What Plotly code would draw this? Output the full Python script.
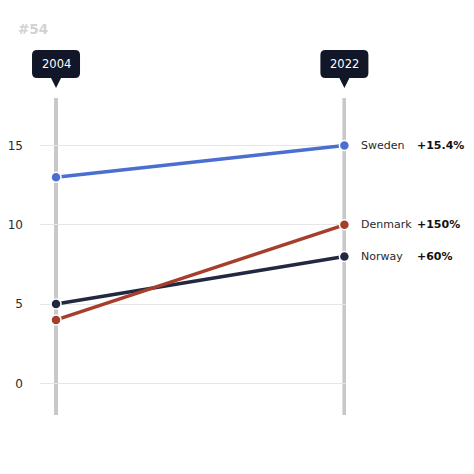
import plotly.graph_objects as go

# ── Data ───────────────────────────────────────────────────────────────────────
YEARS = [2004, 2022]
COUNTRIES = ["Sweden", "Norway", "Denmark"]
VALUES = {
    "Sweden": [13, 15],
    "Norway": [5, 8],
    "Denmark": [4, 10],
}
COLORS = {
    "Sweden": "#4a6fcf",
    "Norway": "#22283f",
    "Denmark": "#a53f2b",
}
Y_TICKS = [0, 5, 10, 15]

FONT = "DejaVu Sans"
NAVY = "#111729"
X_RANGE = [2003, 2022.1]

fig = go.Figure()

# two vertical year bars
for yr in YEARS:
    fig.add_shape(type="line", x0=yr, x1=yr, xref="x", y0=0, y1=1, yref="paper",
                  line=dict(color="#c8c8c8", width=4), layer="below")

for name in COUNTRIES:
    v0, v1 = VALUES[name]
    fig.add_trace(go.Scatter(
        x=YEARS, y=VALUES[name], mode="lines+markers", name=name,
        line=dict(color=COLORS[name], width=3.5),
        marker=dict(color=COLORS[name], size=10, line=dict(color="white", width=1.5)),
        cliponaxis=False, showlegend=False, hoverinfo="skip",
    ))
    pct = (v1 - v0) / v0 * 100
    pct_txt = f"+{pct:.1f}%" if pct % 1 else f"+{pct:.0f}%"
    fig.add_annotation(x=YEARS[-1], y=v1, text=name, showarrow=False,
                       xanchor="left", xshift=15,
                       font=dict(family=FONT, size=11, color="#2a2a2a"))
    fig.add_annotation(x=YEARS[-1], y=v1, text=f"<b>{pct_txt}</b>", showarrow=False,
                       xanchor="left", xshift=71,
                       font=dict(family=FONT, size=11, color="#111"))

# year callouts (rounded box with pointer, pixel-sized, paper-anchored so not clipped)
callout = ("M -5,20 L -19,20 Q -24,20 -24,25 L -24,43 Q -24,48 -19,48 "
           "L 19,48 Q 24,48 24,43 L 24,25 Q 24,20 19,20 L 5,20 L 0,10 Z")
for yr in YEARS:
    px = (yr - X_RANGE[0]) / (X_RANGE[1] - X_RANGE[0])
    fig.add_shape(type="path", path=callout, xref="paper", yref="paper",
                  xsizemode="pixel", ysizemode="pixel", xanchor=px, yanchor=1,
                  fillcolor=NAVY, line=dict(width=0))
    fig.add_annotation(x=yr, y=1, xref="x", yref="paper", text=str(yr),
                       showarrow=False, yanchor="middle", yshift=34,
                       font=dict(family=FONT, size=11.5, color="white"))

fig.add_annotation(x=0, y=1, xref="paper", yref="paper", text="<b>#54</b>",
                   showarrow=False, xanchor="left", yanchor="middle",
                   xshift=-24, yshift=69,
                   font=dict(family=FONT, size=13.5, color="#d2d2d2"))

fig.update_layout(
    width=474, height=474,
    paper_bgcolor="white", plot_bgcolor="white",
    font=dict(family=FONT, size=12, color="#333"),
    margin=dict(l=40, r=128, t=98, b=59, autoexpand=False),
    xaxis=dict(range=X_RANGE, showgrid=False, zeroline=False,
               showticklabels=False, fixedrange=True, automargin=False),
    yaxis=dict(range=[-2, 18], tickvals=Y_TICKS, gridcolor="#e6e6e6",
               gridwidth=1, zeroline=False, ticklabelstandoff=16, automargin=False,
               fixedrange=True,
               tickfont=dict(family=FONT, size=12, color="#2b2b2b")),
)

fig.write_html("out.html", config={"displayModeBar": False},
               post_script="document.body.style.margin='0';")
